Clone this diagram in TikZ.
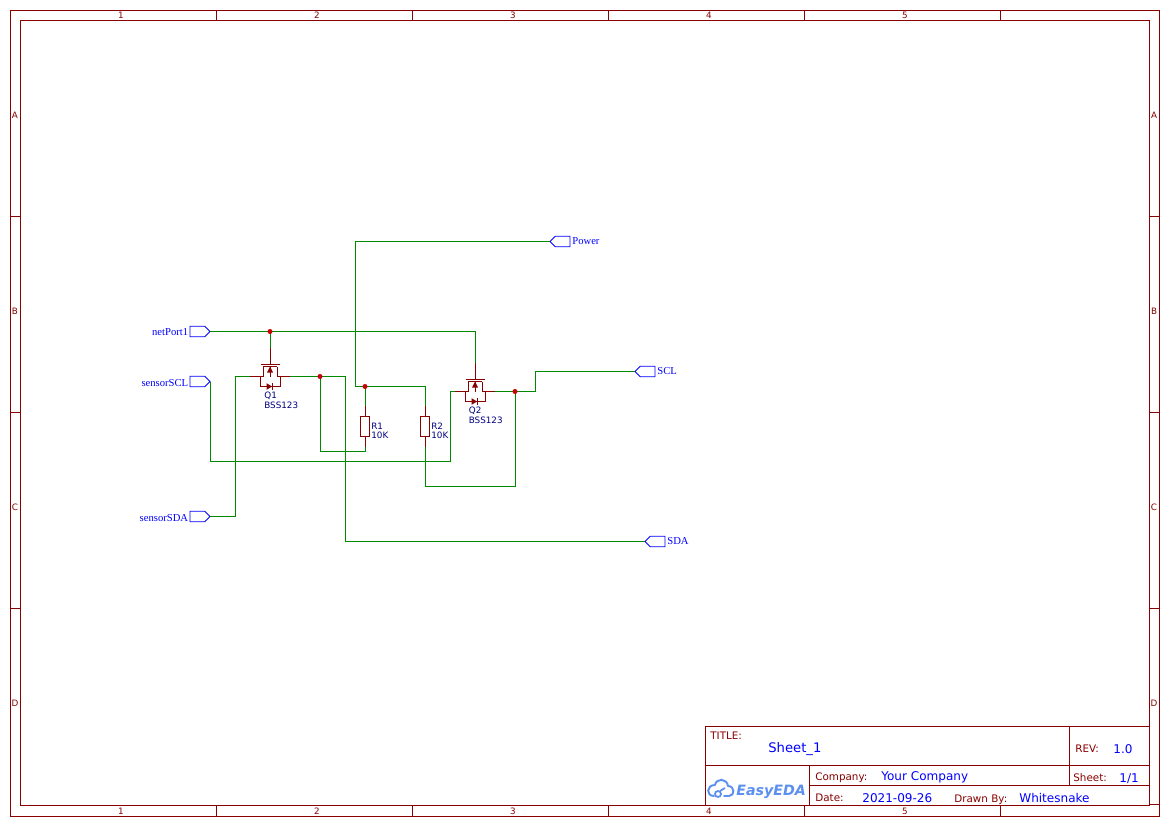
\documentclass[tikz,border=0pt]{standalone}
\usepackage{fontspec}
\setmainfont{DejaVu Sans}
\newfontfamily\flagfont{Liberation Serif}
\usetikzlibrary{positioning,shapes.symbols}
\definecolor{framered}{HTML}{880000}
\definecolor{wiregreen}{HTML}{008800}
\definecolor{dotred}{HTML}{CC0000}
\definecolor{partblue}{HTML}{000080}
\definecolor{pinblue}{HTML}{0000FF}
\definecolor{logoblue}{HTML}{5B8FF0}
\tikzset{
    frameline/.style={framered, line width=0.55pt},
    wire/.style={wiregreen, line width=0.55pt},
    part/.style={framered, line width=0.55pt},
    junction/.style={circle, fill=dotred, inner sep=0pt, minimum size=0.1cm},
    resbox/.style={rectangle, draw=framered, line width=0.55pt, fill=white, inner sep=0pt, minimum width=0.18cm, minimum height=0.41cm},
    flag/.style={signal, draw=pinblue, line width=0.55pt, signal pointer angle=90, inner sep=0pt, outer sep=0pt, minimum width=0.4cm, minimum height=0.21cm},
    flagright/.style={flag, signal to=east, anchor=east},
    flagleft/.style={flag, signal to=west, anchor=west},
    flagtext/.style={pinblue, inner sep=0pt, font=\flagfont\fontsize{6.05}{7}\selectfont},
    parttext/.style={partblue, inner sep=0pt, anchor=west, font=\fontsize{5}{6}\selectfont},
    ticktext/.style={framered, inner sep=0pt, font=\fontsize{5}{6}\selectfont},
    titletext/.style={framered, inner sep=0pt, anchor=base west, font=\fontsize{5.9}{7}\selectfont},
    valuetext/.style={pinblue, inner sep=0pt, anchor=base west, font=\fontsize{6.85}{9}\selectfont},
    pics/mosfet/.style={code={
        \coordinate (-source) at (-20,0);
        \coordinate (-drain) at (20,0);
        \coordinate (-gate) at (0,-29);
        \draw[part] (0,-29) -- (0,-12);
        \draw[part] (-9.5,-12) -- (9.5,-12);
        \draw[part] (-7,-10) -- (7,-10);
        \draw[part] (-20,0) -- (-7,0) -- (-7,-10);
        \draw[part] (20,0) -- (7,0) -- (7,-10);
        \draw[part] (-10,0) -- (-10,10) -- (10,10) -- (10,0);
        \draw[part] (0,-10) -- (0,0);
        \fill[framered] (0,-10) -- (3,-4) -- (-3,-4) -- cycle;
        \fill[framered] (2,10) -- (-3.5,6.7) -- (-3.5,13.3) -- cycle;
        \draw[part] (2.5,6.7) -- (2.5,13.3);
    }}
}
\begin{document}
\begin{tikzpicture}[x=0.02cm, y=-0.02cm]
    \useasboundingbox (0,0) rectangle (1169,827);

    \draw[frameline] (10,10.5) rectangle (1159,816.5);
    \draw[frameline] (20,805.5) -- (20,20.5) -- (1149,20.5) -- (1149,804.5) -- (1159,804.5);
    \draw[frameline] (20,805.5) -- (705,805.5);
    \foreach \x in {216,412,608,804,1000} {
        \draw[frameline] (\x,10.5) -- (\x,20.5);
        \draw[frameline] (\x,805.5) -- (\x,816.5);
    }
    \foreach \y in {216.5,412.5,608.5} {
        \draw[frameline] (10,\y) -- (20,\y);
        \draw[frameline] (1149,\y) -- (1159,\y);
    }
    \foreach \x/\n in {121/1,317/2,513/3,709/4,905/5} {
        \node[ticktext] (top\n) at (\x,15.5) {\n};
        \node[ticktext] (bot\n) at (\x,811) {\n};
    }
    \foreach \y/\n in {115/A,311/B,507/C,703/D} {
        \node[ticktext] (left\n) at (15,\y) {\n};
        \node[ticktext] (right\n) at (1154,\y) {\n};
    }

    \draw[frameline] (705,726.5) rectangle (1149,805.5);
    \draw[frameline] (705,765.5) -- (1149,765.5);
    \draw[frameline] (809,785.5) -- (1149,785.5);
    \draw[frameline] (809,765.5) -- (809,805.5);
    \draw[frameline] (1069.5,726.5) -- (1069.5,785.5);
    \node[titletext] (titleLabel) at (710,739) {TITLE:};
    \node[valuetext, font=\fontsize{7.5}{9}\selectfont] (titleValue) at (768,752) {Sheet\_1};
    \node[titletext] (revLabel) at (1075,752) {REV:};
    \node[valuetext] (revValue) at (1113,753) {1.0};
    \node[titletext] (companyLabel) at (815,780) {Company:};
    \node[valuetext] (companyValue) at (881,780) {Your Company};
    \node[titletext] (sheetLabel) at (1073,781) {Sheet:};
    \node[valuetext] (sheetValue) at (1119,782) {1/1};
    \node[titletext] (dateLabel) at (815,801) {Date:};
    \node[valuetext] (dateValue) at (862,802) {2021-09-26};
    \node[titletext] (drawnLabel) at (954,802) {Drawn By:};
    \node[valuetext] (drawnValue) at (1019,802) {Whitesnake};

    \draw[logoblue, line width=1.1pt, line cap=round, line join=round]
        (724,796) -- (729,796) .. controls (735,796) and (735,786) .. (728,786)
        .. controls (727,778) and (716,778) .. (715,785)
        .. controls (706,785) and (706,796) .. (714,796);
    \draw[logoblue, line width=1pt] (718,794) circle (3);
    \draw[logoblue, line width=1pt] (720,791) -- (725,788);
    \node[logoblue, inner sep=0pt, anchor=base west, font=\fontsize{8.1}{10}\bfseries\itshape\selectfont] (logoText) at (736,795) {EasyEDA};

    \node[flagright] (netPort1) at (210,331.5) {};
    \node[flagright] (sensorSCL) at (210,381.5) {};
    \node[flagright] (sensorSDA) at (210,516.5) {};
    \node[flagleft] (Power) at (550,241.5) {};
    \node[flagleft] (SCL) at (635,371.5) {};
    \node[flagleft] (SDA) at (645,541.5) {};
    \node[flagtext, left=0.03cm of netPort1, yshift=-0.02cm] (netPort1Text) {netPort1};
    \node[flagtext, left=0.03cm of sensorSCL, yshift=-0.03cm] (sensorSCLText) {sensorSCL};
    \node[flagtext, left=0.03cm of sensorSDA, yshift=-0.03cm] (sensorSDAText) {sensorSDA};
    \node[flagtext, right=0.04cm of Power] (PowerText) {Power};
    \node[flagtext, right=0.04cm of SCL] (SCLText) {SCL};
    \node[flagtext, right=0.04cm of SDA] (SDAText) {SDA};

    \pic (Q1) at (270,376.5) {mosfet};
    \pic (Q2) at (475,391.5) {mosfet};
    \node[parttext] (Q1Name) at (264,396) {Q1};
    \node[parttext] (Q1Value) at (264,405.5) {BSS123};
    \node[parttext] (Q2Name) at (468.5,411) {Q2};
    \node[parttext] (Q2Value) at (468.5,420.5) {BSS123};

    \node[resbox] (R1) at (365,426.5) {};
    \node[resbox] (R2) at (425,426.5) {};
    \draw[part] (R1.north) -- ++(0,-10) coordinate (R1top);
    \draw[part] (R1.south) -- ++(0,10) coordinate (R1bot);
    \draw[part] (R2.north) -- ++(0,-10) coordinate (R2top);
    \draw[part] (R2.south) -- ++(0,10) coordinate (R2bot);
    \node[parttext] (R1Name) at (371,426) {R1};
    \node[parttext] (R1Value) at (371,435.5) {10K};
    \node[parttext] (R2Name) at (431,426) {R2};
    \node[parttext] (R2Value) at (431,435.5) {10K};

    \draw[wire] (netPort1.east) -- (475,331.5) -- (Q2-gate);
    \draw[wire] (270,331.5) -- (Q1-gate);
    \draw[wire] (sensorSDA.east) -- (235,516.5) -- (235,376.5) -- (Q1-source);
    \draw[wire] (Q1-drain) -- (345,376.5) -- (345,541.5) -- (SDA.west);
    \draw[wire] (320,376.5) -- (320,451.5) -- (365,451.5) -- (R1bot);
    \draw[wire] (Power.west) -- (355,241.5) -- (355,386.5) -- (425,386.5) -- (R2top);
    \draw[wire] (365,386.5) -- (R1top);
    \draw[wire] (sensorSCL.east) -- (210,461.5) -- (450,461.5) -- (450,391.5) -- (Q2-source);
    \draw[wire] (R2bot) -- (425,486.5) -- (515,486.5) -- (515,391.5);
    \draw[wire] (Q2-drain) -- (535,391.5) -- (535,371.5) -- (SCL.west);

    \node[junction] (jNet) at (270,331.5) {};
    \node[junction] (jSda) at (320,376.5) {};
    \node[junction] (jPow) at (365,386.5) {};
    \node[junction] (jScl) at (515,391.5) {};
\end{tikzpicture}
\end{document}
